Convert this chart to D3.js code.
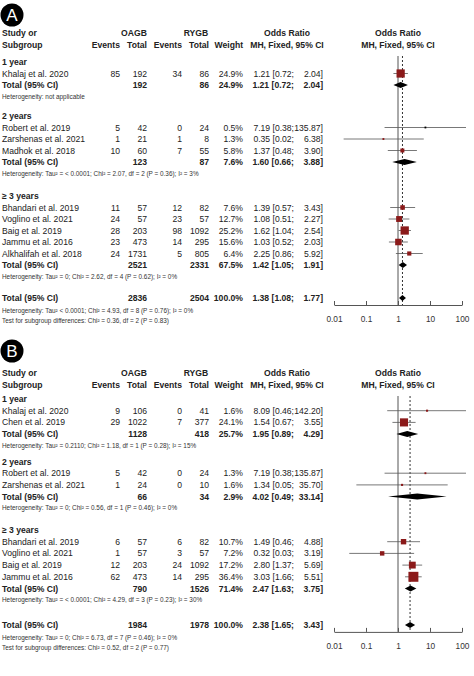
<!DOCTYPE html>
<html>
<head>
<meta charset="UTF-8">
<script src="https://d3js.org/d3.v7.min.js"></script>
<style>
  body { margin: 0; background: #fff; }
  text { font-family: "Liberation Sans", Arial, sans-serif; fill: #222; }
  .b { font-weight: bold; }
  .het { font-size: 6.4px; fill: #333; }
</style>
</head>
<body>
<svg id="chart" width="474" height="676"></svg>
<script>
// ---- panel A data ----
const groupsA = ["1 year", "2 years", "\u2265 3 years"];
const studyA = ["Khalaj et al. 2020", "Robert et al. 2019", "Zarshenas et al. 2021", "Madhok et al. 2018",
  "Bhandari et al. 2019", "Voglino et al. 2021", "Baig et al. 2019", "Jammu et al. 2016", "Alkhalifah et al. 2018"];
const groupOfA = [0, 1, 1, 1, 2, 2, 2, 2, 2];
const evOA = [85, 5, 1, 10, 11, 24, 28, 23, 24];
const totOA = [192, 42, 21, 60, 57, 57, 203, 473, 1731];
const evRA = [34, 0, 1, 7, 12, 23, 98, 14, 5];
const totRA = [86, 24, 8, 55, 82, 57, 1092, 295, 805];
const wA = [24.9, 0.5, 1.3, 5.8, 7.6, 12.7, 25.2, 15.6, 6.4];
const orA = [1.21, 7.19, 0.35, 1.37, 1.39, 1.08, 1.62, 1.03, 2.25];
const loA = [0.72, 0.38, 0.02, 0.48, 0.57, 0.51, 1.04, 0.52, 0.86];
const hiA = [2.04, 135.87, 6.38, 3.90, 3.43, 2.27, 2.54, 2.03, 5.92];
const subTotOA = [192, 123, 2521], subTotRA = [86, 87, 2331], subWA = [24.9, 7.6, 67.5];
const subOrA = [1.21, 1.60, 1.42], subLoA = [0.72, 0.66, 1.05], subHiA = [2.04, 3.88, 1.91];
const subHetA = ["Heterogeneity: not applicable",
  "Heterogeneity: Tau\u00b2 = < 0.0001; Chi\u00b2 = 2.07, df = 2 (P = 0.36); I\u00b2 = 3%",
  "Heterogeneity: Tau\u00b2 = 0; Chi\u00b2 = 2.62, df = 4 (P = 0.62); I\u00b2 = 0%"];
const totalA = [2836, 2504, 1.38, 1.08, 1.77];
const overallHetA = ["Heterogeneity: Tau\u00b2 < 0.0001; Chi\u00b2 = 4.93, df = 8 (P = 0.76); I\u00b2 = 0%",
  "Test for subgroup differences: Chi\u00b2 = 0.36, df = 2 (P = 0.83)"];

// ---- panel B data ----
const groupsB = ["1 year", "2 years", "\u2265 3 years"];
const studyB = ["Khalaj et al. 2020", "Chen et al. 2019", "Robert et al. 2019", "Zarshenas et al. 2021",
  "Bhandari et al. 2019", "Voglino et al. 2021", "Baig et al. 2019", "Jammu et al. 2016"];
const groupOfB = [0, 0, 1, 1, 2, 2, 2, 2];
const evOB = [9, 29, 5, 1, 6, 1, 12, 62];
const totOB = [106, 1022, 42, 24, 57, 57, 203, 473];
const evRB = [0, 7, 0, 0, 6, 3, 24, 14];
const totRB = [41, 377, 24, 10, 82, 57, 1092, 295];
const wB = [1.6, 24.1, 1.3, 1.6, 10.7, 7.2, 17.2, 36.4];
const orB = [8.09, 1.54, 7.19, 1.34, 1.49, 0.32, 2.80, 3.03];
const loB = [0.46, 0.67, 0.38, 0.05, 0.46, 0.03, 1.37, 1.66];
const hiB = [142.20, 3.55, 135.87, 35.70, 4.88, 3.19, 5.69, 5.51];
const subTotOB = [1128, 66, 790], subTotRB = [418, 34, 1526], subWB = [25.7, 2.9, 71.4];
const subOrB = [1.95, 4.02, 2.47], subLoB = [0.89, 0.49, 1.63], subHiB = [4.29, 33.14, 3.75];
const subHetB = ["Heterogeneity: Tau\u00b2 = 0.2110; Chi\u00b2 = 1.18, df = 1 (P = 0.28); I\u00b2 = 15%",
  "Heterogeneity: Tau\u00b2 = 0; Chi\u00b2 = 0.56, df = 1 (P = 0.46); I\u00b2 = 0%",
  "Heterogeneity: Tau\u00b2 = < 0.0001; Chi\u00b2 = 4.29, df = 3 (P = 0.23); I\u00b2 = 30%"];
const totalB = [1984, 1978, 2.38, 1.65, 3.43];
const overallHetB = ["Heterogeneity: Tau\u00b2 = 0; Chi\u00b2 = 6.73, df = 7 (P = 0.46); I\u00b2 = 0%",
  "Test for subgroup differences: Chi\u00b2 = 0.52, df = 2 (P = 0.77)"];

const ticks = [0.01, 0.1, 1, 10, 100];

const svg = d3.select("#chart");
const x = d3.scaleLog().domain([0.01, 100]).range([334, 462]);
const f2 = d => d.toFixed(2);
const red = "#8b1a1a";
const FS = 8.6;

function drawPanel(p) {
  const g = svg.append("g").attr("transform", `translate(0,${p.top})`);
  // letter badge
  g.append("circle").attr("cx", 12).attr("cy", 15).attr("r", 11.5).attr("fill", "#000");
  g.append("text").attr("x", 12).attr("y", 21).attr("text-anchor", "middle")
    .attr("font-size", 17).style("fill", "#fff").text(p.letter);

  // headers
  const h = (t, xx, yy, anchor) => g.append("text").attr("class", "b").attr("x", xx).attr("y", yy)
    .attr("font-size", FS).attr("text-anchor", anchor).text(t);
  h("Study or", 2, p.h1, "start"); h("Subgroup", 2, p.h2, "start");
  h("OAGB", 134, p.h1, "middle"); h("RYGB", 196, p.h1, "middle");
  h("Odds Ratio", 287, p.h1, "middle"); h("Odds Ratio", 398, p.h1, "middle");
  h("Events", 120, p.h2, "end"); h("Total", 147, p.h2, "end");
  h("Events", 182, p.h2, "end"); h("Total", 209, p.h2, "end");
  h("Weight", 243, p.h2, "end"); h("MH, Fixed, 95% CI", 287, p.h2, "middle");
  h("MH, Fixed, 95% CI", 398, p.h2, "middle");

  // rows
  let y = p.h2 + p.firstGap;
  const rows = [];
  p.groups.forEach((gr, gi) => {
    if (gi > 0) y += p.gaps[gi - 1];
    rows.push({ type: "group", y, label: gr }); y += p.step;
    p.study.forEach((s, i) => {
      if (p.groupOf[i] !== gi) return;
      rows.push({ type: "study", y, i }); y += p.step;
    });
    rows.push({ type: "sub", y, gi }); y += p.step;
    rows.push({ type: "het", y, label: p.subHet[gi] }); y += p.step;
  });
  y += p.gaps[2];
  const totalY = y;
  rows.push({ type: "total", y }); y += p.step;
  rows.push({ type: "het", y: y + 1, label: p.overallHet[0] }); y += p.step;
  rows.push({ type: "het", y, label: p.overallHet[1] });

  const axisY = totalY + 7;
  const plotTop = p.h2 + 8;
  // reference lines
  g.append("line").attr("x1", x(1)).attr("x2", x(1)).attr("y1", plotTop).attr("y2", axisY)
    .attr("stroke", "#555").attr("stroke-width", 1);
  g.append("line").attr("x1", x(p.total[2])).attr("x2", x(p.total[2])).attr("y1", plotTop).attr("y2", axisY)
    .attr("stroke", "#333").attr("stroke-dasharray", "2,2");

  const txt = (t, xx, yy, anchor, bold) => g.append("text").attr("class", bold ? "b" : null)
    .attr("x", xx).attr("y", yy + 3).attr("font-size", FS).attr("text-anchor", anchor).text(t);
  const ciText = (or, lo, hi, yy, bold) => {
    txt(`${f2(or)} [${f2(lo)};`, 294, yy, "end", bold);
    txt(`${f2(hi)}]`, 323, yy, "end", bold);
  };
  const diamond = (or, lo, hi, yy) => g.append("path")
    .attr("d", `M${x(lo)},${yy} L${x(or)},${yy - 3} L${x(hi)},${yy} L${x(or)},${yy + 3} Z`)
    .attr("fill", "#000");

  rows.forEach(r => {
    if (r.type === "group") txt(r.label, 2, r.y, "start", true);
    else if (r.type === "het") g.append("text").attr("class", "het").attr("x", 2).attr("y", r.y + 2).text(r.label);
    else if (r.type === "study") {
      const i = r.i;
      txt(p.study[i], 2, r.y, "start");
      txt(p.evO[i], 120, r.y, "end"); txt(p.totO[i], 147, r.y, "end");
      txt(p.evR[i], 182, r.y, "end"); txt(p.totR[i], 209, r.y, "end");
      txt(p.w[i].toFixed(1) + "%", 243, r.y, "end");
      ciText(p.or[i], p.lo[i], p.hi[i], r.y);
      g.append("line").attr("x1", Math.max(x(p.lo[i]), 334)).attr("x2", Math.min(x(p.hi[i]), 466))
        .attr("y1", r.y).attr("y2", r.y).attr("stroke", "#555").attr("stroke-width", 0.8);
      const s = Math.max(1.8, Math.sqrt(p.w[i]) * 1.65);
      g.append("rect").attr("x", x(p.or[i]) - s / 2).attr("y", r.y - s / 2).attr("width", s).attr("height", s)
        .attr("fill", p.w[i] < 1 ? "#000" : red);
    } else if (r.type === "sub") {
      const gi = r.gi;
      txt("Total (95% CI)", 2, r.y, "start", true);
      txt(p.subTotO[gi], 147, r.y, "end", true); txt(p.subTotR[gi], 209, r.y, "end", true);
      txt(p.subW[gi].toFixed(1) + "%", 243, r.y, "end", true);
      ciText(p.subOr[gi], p.subLo[gi], p.subHi[gi], r.y, true);
      diamond(p.subOr[gi], p.subLo[gi], p.subHi[gi], r.y);
    } else if (r.type === "total") {
      txt("Total (95% CI)", 2, r.y, "start", true);
      txt(p.total[0], 147, r.y, "end", true); txt(p.total[1], 209, r.y, "end", true);
      txt("100.0%", 243, r.y, "end", true);
      ciText(p.total[2], p.total[3], p.total[4], r.y, true);
      diamond(p.total[2], p.total[3], p.total[4], r.y);
    }
  });

  const ax = g.append("g").attr("transform", `translate(0,${axisY})`)
    .call(d3.axisBottom(x).tickValues(ticks).tickFormat(d => String(d)).tickSizeInner(-4).tickSizeOuter(0).tickPadding(11));
  ax.select(".domain").attr("stroke", "#555");
  ax.selectAll(".tick line").attr("stroke", "#555");
  ax.selectAll("text").attr("font-size", 8.3).style("fill", "#333")
    .style("font-family", "Liberation Sans, Arial, sans-serif");
}

drawPanel({ letter: "A", top: 0, h1: 36, h2: 48, firstGap: 14, step: 11.5, gaps: [8, 11, 10],
  groups: groupsA, study: studyA, groupOf: groupOfA, evO: evOA, totO: totOA, evR: evRA, totR: totRA,
  w: wA, or: orA, lo: loA, hi: hiA, subTotO: subTotOA, subTotR: subTotRA, subW: subWA,
  subOr: subOrA, subLo: subLoA, subHi: subHiA, subHet: subHetA, total: totalA, overallHet: overallHetA });

drawPanel({ letter: "B", top: 336, h1: 40, h2: 52, firstGap: 11, step: 11.7, gaps: [4, 10, 13],
  groups: groupsB, study: studyB, groupOf: groupOfB, evO: evOB, totO: totOB, evR: evRB, totR: totRB,
  w: wB, or: orB, lo: loB, hi: hiB, subTotO: subTotOB, subTotR: subTotRB, subW: subWB,
  subOr: subOrB, subLo: subLoB, subHi: subHiB, subHet: subHetB, total: totalB, overallHet: overallHetB });
</script>
</body>
</html>
